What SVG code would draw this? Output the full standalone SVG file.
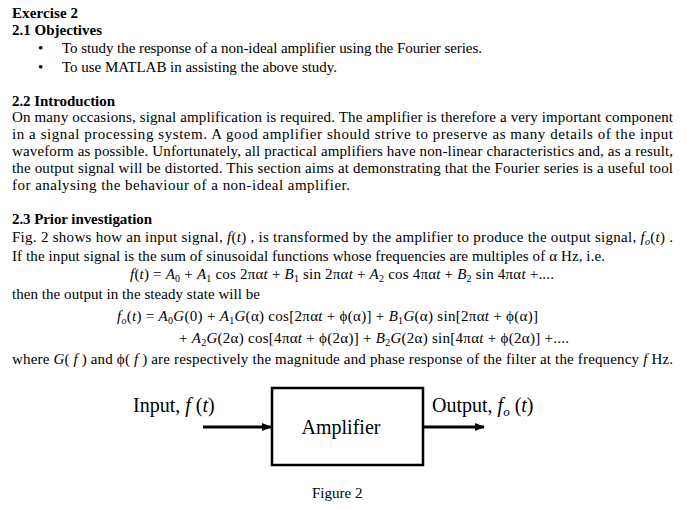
<svg xmlns="http://www.w3.org/2000/svg" width="687" height="509" viewBox="0 0 687 509">
<style>
text{font-family:"Liberation Serif","Times New Roman",serif;font-size:15px;fill:#000}
.b{font-weight:bold}
.i{font-style:italic}
.big{font-size:20px}
</style>
<defs><marker id="ah" markerWidth="10" markerHeight="8" refX="9" refY="4" orient="auto" markerUnits="userSpaceOnUse"><path d="M0,0L10,4L0,8z" fill="#000"/></marker></defs>
<rect width="687" height="509" fill="#fff"/>
<text x="12" y="18" class="b" textLength="66">Exercise 2</text>
<text x="12" y="35" class="b" textLength="90">2.1 Objectives</text>
<text x="38" y="53">•</text><text x="62" y="53" textLength="420">To study the response of a non-ideal amplifier using the Fourier series.</text>
<text x="38" y="72">•</text><text x="62" y="72" textLength="275">To use MATLAB in assisting the above study.</text>
<text x="12" y="106" class="b" textLength="103">2.2 Introduction</text>
<text x="12" y="122" textLength="661" lengthAdjust="spacing">On many occasions, signal amplification is required. The amplifier is therefore a very important component</text>
<text x="12" y="139" textLength="661" lengthAdjust="spacing">in a signal processing system. A good amplifier should strive to preserve as many details of the input</text>
<text x="12" y="156" textLength="661" lengthAdjust="spacing">waveform as possible. Unfortunately, all practical amplifiers have non-linear characteristics and, as a result,</text>
<text x="12" y="173" textLength="661" lengthAdjust="spacing">the output signal will be distorted. This section aims at demonstrating that the Fourier series is a useful tool</text>
<text x="12" y="190" textLength="338">for analysing the behaviour of a non-ideal amplifier.</text>
<text x="12" y="224" class="b" textLength="140">2.3 Prior investigation</text>
<text x="12" y="242" textLength="661" lengthAdjust="spacing">Fig. 2 shows how an input signal, <tspan class="i">f</tspan>(<tspan class="i">t</tspan>) , is transformed by the amplifier to produce the output signal, <tspan class="i">f<tspan font-size="10" dy="3">o</tspan></tspan><tspan dy="-3">(</tspan><tspan class="i">t</tspan>) .</text>
<text x="12" y="261" textLength="593">If the input signal is the sum of sinusoidal functions whose frequencies are multiples of α Hz, i.e.</text>
<text x="130" y="279" textLength="424"><tspan class="i">f</tspan>(<tspan class="i">t</tspan>) = <tspan class="i">A</tspan><tspan font-size="10" dy="3">0</tspan><tspan dy="-3"> + </tspan><tspan class="i">A</tspan><tspan font-size="10" dy="3">1</tspan><tspan dy="-3"> cos 2πα</tspan><tspan class="i">t</tspan> + <tspan class="i">B</tspan><tspan font-size="10" dy="3">1</tspan><tspan dy="-3"> sin 2πα</tspan><tspan class="i">t</tspan> + <tspan class="i">A</tspan><tspan font-size="10" dy="3">2</tspan><tspan dy="-3"> cos 4πα</tspan><tspan class="i">t</tspan> + <tspan class="i">B</tspan><tspan font-size="10" dy="3">2</tspan><tspan dy="-3"> sin 4πα</tspan><tspan class="i">t</tspan> +....</text>
<text x="12" y="299" textLength="248">then the output in the steady state will be</text>
<text x="117" y="321" textLength="421"><tspan class="i">f</tspan><tspan class="i" font-size="10" dy="3">o</tspan><tspan dy="-3">(</tspan><tspan class="i">t</tspan>) = <tspan class="i">A</tspan><tspan font-size="10" dy="3">0</tspan><tspan class="i" dy="-3">G</tspan>(0) + <tspan class="i">A</tspan><tspan font-size="10" dy="3">1</tspan><tspan class="i" dy="-3">G</tspan>(α) cos[2πα<tspan class="i">t</tspan> + ϕ(α)] + <tspan class="i">B</tspan><tspan font-size="10" dy="3">1</tspan><tspan class="i" dy="-3">G</tspan>(α) sin[2πα<tspan class="i">t</tspan> + ϕ(α)]</text>
<text x="179" y="343" textLength="390">+ <tspan class="i">A</tspan><tspan font-size="10" dy="3">2</tspan><tspan class="i" dy="-3">G</tspan>(2α) cos[4πα<tspan class="i">t</tspan> + ϕ(2α)] + <tspan class="i">B</tspan><tspan font-size="10" dy="3">2</tspan><tspan class="i" dy="-3">G</tspan>(2α) sin[4πα<tspan class="i">t</tspan> + ϕ(2α)] +....</text>
<text x="12" y="364" textLength="661">where <tspan class="i">G</tspan>( <tspan class="i">f</tspan> ) and ϕ( <tspan class="i">f</tspan> ) are respectively the magnitude and phase response of the filter at the frequency <tspan class="i">f</tspan> Hz.</text>
<g id="amplifier"><rect x="272" y="388" width="151" height="77" fill="none" stroke="#000" stroke-width="2.5"/><text x="341" y="434" class="big" text-anchor="middle">Amplifier</text></g>
<g id="input"><text x="133" y="412" class="big">Input, <tspan class="i">f</tspan> (<tspan class="i">t</tspan>)</text></g>
<g id="output"><text x="432" y="412" class="big">Output, <tspan class="i">f<tspan font-size="13" dy="4">o</tspan></tspan><tspan dy="-4"> (</tspan><tspan class="i">t</tspan>)</text></g>
<g id="connectors" stroke="#000" stroke-width="3"><line x1="203" y1="427" x2="271" y2="427" marker-end="url(#ah)"/><line x1="423" y1="427" x2="484" y2="427" marker-end="url(#ah)"/></g>
<text x="312" y="498" font-size="14">Figure 2</text>
</svg>
